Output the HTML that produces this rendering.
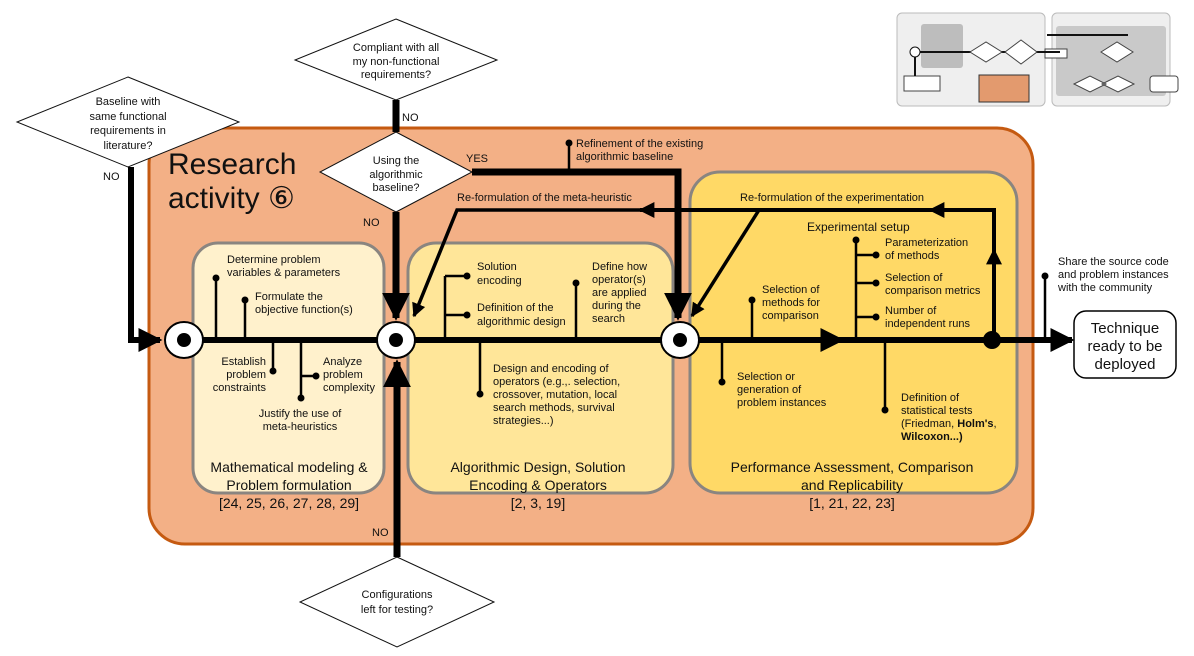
<!DOCTYPE html>
<html><head><meta charset="utf-8"><style>
html,body{margin:0;padding:0;background:#fff}
svg{display:block}
text{font-family:"Liberation Sans",sans-serif;font-size:11px;fill:#111}
.t{font-size:14px}
</style></head><body>
<svg width="1194" height="656" viewBox="0 0 1194 656" xmlns="http://www.w3.org/2000/svg">
<defs>
<marker id="ah" viewBox="0 0 10 10" refX="9" refY="5" markerWidth="4" markerHeight="4" orient="auto-start-reverse"><path d="M0,0 L10,5 L0,10 z" fill="#000"/></marker>
</defs>
<!-- minimap -->
<g>
<rect x="897" y="13" width="148" height="93" rx="5" fill="#efefef" stroke="#bbb"/>
<rect x="1052" y="13" width="118" height="93" rx="5" fill="#efefef" stroke="#bbb"/>
<rect x="921" y="24" width="42" height="44" rx="3" fill="#bdbdbd"/>
<rect x="1056" y="26" width="110" height="70" rx="3" fill="#c9c9c9"/>
<rect x="979" y="75" width="50" height="27" fill="#e39a6e" stroke="#333"/>
<rect x="1150" y="76" width="28" height="16" rx="3" fill="#fff" stroke="#444"/>
<rect x="904" y="76" width="36" height="15" fill="#fff" stroke="#444"/>
<rect x="1045" y="49" width="22" height="9" fill="#fff" stroke="#444"/>
<path d="M915,52 H1060 M915,52 V76 M1047,35 H1128" stroke="#111" stroke-width="2" fill="none"/>
<path d="M970,52 l16,-10 l16,10 l-16,10z M1005,52 l16,-12 l16,12 l-16,12z M1101,52 l16,-10 l16,10 l-16,10z M1074,84 l16,-8 l16,8 l-16,8z M1102,84 l16,-8 l16,8 l-16,8z" fill="#fff" stroke="#444"/>
<circle cx="915" cy="52" r="5" fill="#fff" stroke="#111"/>
</g>
<!-- outer orange -->
<rect x="149" y="128" width="884" height="416" rx="36" fill="#f3b086" stroke="#c55a11" stroke-width="3"/>
<text x="168" y="174" style="font-size:30px">Research</text>
<text x="168" y="208" style="font-size:30px">activity ⑥</text>
<!-- inner boxes -->
<rect x="193" y="243" width="191" height="250" rx="25" fill="#fff1cc" stroke="#8a8580" stroke-width="3"/>
<rect x="408" y="243" width="265" height="250" rx="28" fill="#ffe699" stroke="#8a8580" stroke-width="3"/>
<rect x="690" y="172" width="327" height="321" rx="30" fill="#ffd966" stroke="#8a8580" stroke-width="3"/>
<!-- diamonds -->
<path d="M396,19 L497,60 L396,100 L295,60z" fill="#fff" stroke="#111"/>
<path d="M128,77 L239,122 L128,167 L17,122z" fill="#fff" stroke="#111"/>
<path d="M396,132 L472,172 L396,212 L320,172z" fill="#fff" stroke="#111"/>
<path d="M397,557 L494,602 L397,647 L300,602z" fill="#fff" stroke="#111"/>
<g text-anchor="middle" style="font-size:12px">
<text x="396" y="51">Compliant with all</text><text x="396" y="65">my non-functional</text><text x="396" y="78">requirements?</text>
<text x="128" y="105">Baseline with</text><text x="128" y="120">same functional</text><text x="128" y="134">requirements in</text><text x="128" y="149">literature?</text>
<text x="396" y="164">Using the</text><text x="396" y="178">algorithmic</text><text x="396" y="191">baseline?</text>
<text x="397" y="598">Configurations</text><text x="397" y="613">left for testing?</text>
</g>
<!-- thick connectors -->
<g stroke="#000" fill="none">
<path d="M396,100 V132" stroke-width="7"/>
<path d="M131,167 V340 H160" stroke-width="6" marker-end="url(#ah)"/>
<path d="M396,212 V318" stroke-width="7" marker-end="url(#ah)"/>
<path d="M472,172 H678 V318" stroke-width="7" marker-end="url(#ah)"/>
<path d="M397,557 V362" stroke-width="7" marker-end="url(#ah)"/>
<path d="M165,340 H1068" stroke-width="6"/>
<path d="M800,340 H842" stroke-width="6" marker-end="url(#ah)"/>
<path d="M1040,340 H1072" stroke-width="6" marker-end="url(#ah)"/>
<path d="M994,340 V250" stroke-width="4" marker-end="url(#ah)"/>
<path d="M994,270 V210 H930" stroke-width="4" marker-end="url(#ah)"/>
<path d="M950,210 H640" stroke-width="4" marker-end="url(#ah)"/>
<path d="M660,210 H457 L414,316" stroke-width="3.5" marker-end="url(#ah)"/>
<path d="M759,210 L692,316" stroke-width="3.5" marker-end="url(#ah)"/>
</g>
<text x="402" y="121">NO</text>
<text x="103" y="180">NO</text>
<text x="466" y="162">YES</text>
<text x="363" y="226">NO</text>
<text x="372" y="536">NO</text>
<text x="576" y="147">Refinement of the existing</text><text x="576" y="160">algorithmic baseline</text>
<text x="457" y="201">Re-formulation of the meta-heuristic</text>
<text x="740" y="201">Re-formulation of the experimentation</text>
<!-- thin stems -->
<g stroke="#000" stroke-width="2.5" fill="none">
<path d="M569,143 V172"/>
<path d="M216,278 V340 M245,300 V340"/>
<path d="M273,340 V371 M301,340 V398 M301,376 H316"/>
<path d="M445,276 V340 M445,276 H467 M445,315 H467"/>
<path d="M576,283 V340 M480,340 V394"/>
<path d="M752,300 V340 M722,340 V382"/>
<path d="M856,240 V340 M856,255 H876 M856,283 H876 M856,317 H876"/>
<path d="M885,340 V410"/>
<path d="M1045,276 V340"/>
</g>
<g fill="#000">
<circle cx="569" cy="143" r="3.5"/><circle cx="216" cy="278" r="3.5"/><circle cx="245" cy="300" r="3.5"/>
<circle cx="273" cy="371" r="3.5"/><circle cx="301" cy="398" r="3.5"/><circle cx="316" cy="376" r="3.5"/>
<circle cx="467" cy="276" r="3.5"/><circle cx="467" cy="315" r="3.5"/><circle cx="576" cy="283" r="3.5"/>
<circle cx="480" cy="394" r="3.5"/><circle cx="752" cy="300" r="3.5"/><circle cx="722" cy="382" r="3.5"/>
<circle cx="856" cy="240" r="3.5"/><circle cx="876" cy="255" r="3.5"/><circle cx="876" cy="283" r="3.5"/><circle cx="876" cy="317" r="3.5"/>
<circle cx="885" cy="410" r="3.5"/><circle cx="1045" cy="276" r="3.5"/>
<circle cx="992" cy="340" r="9"/>
</g>
<!-- circles -->
<g stroke="#000" stroke-width="2" fill="#fff">
<ellipse cx="184" cy="340" rx="19" ry="18"/><ellipse cx="396" cy="340" rx="19" ry="18"/><ellipse cx="680" cy="340" rx="19" ry="18"/>
</g>
<g fill="#000"><circle cx="184" cy="340" r="7"/><circle cx="396" cy="340" r="7"/><circle cx="680" cy="340" r="7"/></g>
<!-- labels -->
<text x="227" y="263">Determine problem</text><text x="227" y="276">variables &amp; parameters</text>
<text x="255" y="300">Formulate the</text><text x="255" y="313">objective function(s)</text>
<g text-anchor="end"><text x="266" y="365">Establish</text><text x="266" y="378">problem</text><text x="266" y="391">constraints</text></g>
<text x="323" y="365">Analyze</text><text x="323" y="378">problem</text><text x="323" y="391">complexity</text>
<g text-anchor="middle"><text x="300" y="417">Justify the use of</text><text x="300" y="430">meta-heuristics</text></g>
<text x="477" y="270">Solution</text><text x="477" y="284">encoding</text>
<text x="477" y="311">Definition of the</text><text x="477" y="325">algorithmic design</text>
<text x="592" y="270">Define how</text><text x="592" y="283">operator(s)</text><text x="592" y="296">are applied</text><text x="592" y="309">during the</text><text x="592" y="322">search</text>
<text x="493" y="372">Design and encoding of</text><text x="493" y="385">operators (e.g.,. selection,</text><text x="493" y="398">crossover, mutation, local</text><text x="493" y="411">search methods, survival</text><text x="493" y="424">strategies...)</text>
<text x="807" y="231" style="font-size:12px">Experimental setup</text>
<text x="885" y="246">Parameterization</text><text x="885" y="259">of methods</text>
<text x="885" y="281">Selection of</text><text x="885" y="294">comparison metrics</text>
<text x="885" y="314">Number of</text><text x="885" y="327">independent runs</text>
<text x="762" y="293">Selection of</text><text x="762" y="306">methods for</text><text x="762" y="319">comparison</text>
<text x="737" y="380">Selection or</text><text x="737" y="393">generation of</text><text x="737" y="406">problem instances</text>
<text x="901" y="401">Definition of</text><text x="901" y="414">statistical tests</text><text x="901" y="427">(Friedman, <tspan font-weight="bold">Holm's</tspan>,</text><text x="901" y="440" font-weight="bold">Wilcoxon...)</text>
<text x="1058" y="265">Share the source code</text><text x="1058" y="278">and problem instances</text><text x="1058" y="291">with the community</text>
<g text-anchor="middle" class="t">
<text x="289" y="472" class="t">Mathematical modeling &amp;</text><text x="289" y="490" class="t">Problem formulation</text><text x="289" y="508" class="t">[24, 25, 26, 27, 28, 29]</text>
<text x="538" y="472" class="t">Algorithmic Design, Solution</text><text x="538" y="490" class="t">Encoding &amp; Operators</text><text x="538" y="508" class="t">[2, 3, 19]</text>
<text x="852" y="472" class="t">Performance Assessment, Comparison</text><text x="852" y="490" class="t">and Replicability</text><text x="852" y="508" class="t">[1, 21, 22, 23]</text>
</g>
<rect x="1074" y="311" width="102" height="67" rx="12" fill="#fff" stroke="#000" stroke-width="1.5"/>
<g text-anchor="middle" style="font-size:15px"><text x="1125" y="333" style="font-size:15px">Technique</text><text x="1125" y="351" style="font-size:15px">ready to be</text><text x="1125" y="369" style="font-size:15px">deployed</text></g>
</svg>
</body></html>
